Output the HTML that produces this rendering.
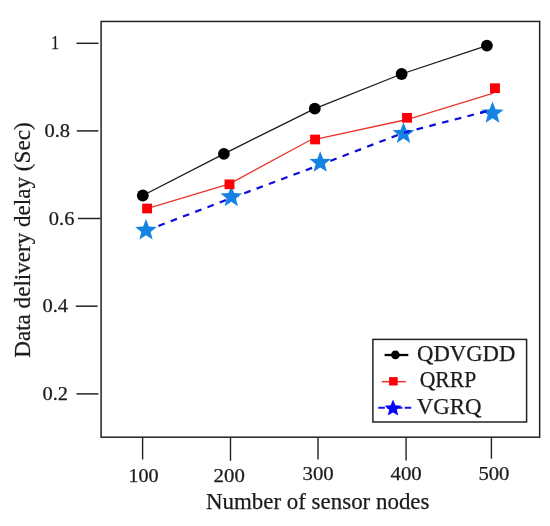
<!DOCTYPE html><html><head><meta charset="utf-8"><title>chart</title>
<style>html,body{margin:0;padding:0;background:#fff;}svg{display:block;}text{font-family:"Liberation Serif",serif;fill:#1c1c1c;stroke:#1c1c1c;stroke-width:0.25px;}</style></head><body>
<svg width="550" height="526" viewBox="0 0 550 526">
<rect width="550" height="526" fill="#fff"/>
<rect x="101.1" y="21.45" width="438.55" height="415.75" fill="none" stroke="#222" stroke-width="1.5"/>
<line x1="142.6" y1="437" x2="142.6" y2="459.5" stroke="#222" stroke-width="1.4"/>
<text x="128.4" y="482" font-size="19.3" textLength="30.2" lengthAdjust="spacingAndGlyphs">100</text>
<line x1="230.5" y1="437" x2="230.5" y2="460.8" stroke="#222" stroke-width="1.4"/>
<text x="213.6" y="482" font-size="19.3" textLength="31.2" lengthAdjust="spacingAndGlyphs">200</text>
<line x1="318" y1="437" x2="318" y2="459.5" stroke="#222" stroke-width="1.4"/>
<text x="302.5" y="479.7" font-size="19.3" textLength="31.2" lengthAdjust="spacingAndGlyphs">300</text>
<line x1="406.1" y1="437" x2="406.1" y2="460.6" stroke="#222" stroke-width="1.4"/>
<text x="390.5" y="479.8" font-size="19.3" textLength="31.3" lengthAdjust="spacingAndGlyphs">400</text>
<line x1="491.4" y1="437" x2="491.4" y2="458.7" stroke="#222" stroke-width="1.4"/>
<text x="478.4" y="479.7" font-size="19.3" textLength="31.0" lengthAdjust="spacingAndGlyphs">500</text>
<line x1="76.5" y1="43.3" x2="98.5" y2="43.3" stroke="#222" stroke-width="1.5"/>
<text x="50.9" y="48.699999999999996" font-size="19.3" textLength="8.2" lengthAdjust="spacingAndGlyphs">1</text>
<line x1="76.8" y1="130.9" x2="98.4" y2="130.9" stroke="#222" stroke-width="1.5"/>
<text x="44.5" y="137.1" font-size="19.3" textLength="25.6" lengthAdjust="spacingAndGlyphs">0.8</text>
<line x1="78" y1="218.5" x2="100.5" y2="218.5" stroke="#222" stroke-width="1.5"/>
<text x="48.8" y="224.7" font-size="19.3" textLength="25.6" lengthAdjust="spacingAndGlyphs">0.6</text>
<line x1="75.8" y1="306.2" x2="97.6" y2="306.2" stroke="#222" stroke-width="1.5"/>
<text x="42.400000000000006" y="312.4" font-size="19.3" textLength="25.6" lengthAdjust="spacingAndGlyphs">0.4</text>
<line x1="76.5" y1="393.9" x2="98.4" y2="393.9" stroke="#222" stroke-width="1.5"/>
<text x="42.400000000000006" y="400.09999999999997" font-size="19.3" textLength="25.6" lengthAdjust="spacingAndGlyphs">0.2</text>
<text x="205.9" y="508.8" font-size="23" textLength="223.6" lengthAdjust="spacingAndGlyphs">Number of sensor nodes</text>
<text transform="translate(30,357.8) rotate(-90)" font-size="23" textLength="235.4" lengthAdjust="spacingAndGlyphs">Data delivery delay (Sec)</text>
<polyline fill="none" stroke="#1a1a1a" stroke-width="1.3" points="142.8,195.5 223.9,153.8 314.8,108.6 401.6,74.0 486.9,45.6"/>
<polyline fill="none" stroke="#e9352d" stroke-width="1.3" points="147,208.6 229.5,183.9 309.5,140.5 407,119.5 493.5,93.2"/>
<circle cx="142.8" cy="195.5" r="5.9" fill="#000"/>
<circle cx="223.9" cy="153.8" r="5.9" fill="#000"/>
<circle cx="314.8" cy="108.6" r="5.9" fill="#000"/>
<circle cx="401.6" cy="74.0" r="5.9" fill="#000"/>
<circle cx="486.9" cy="45.6" r="5.9" fill="#000"/>
<polyline fill="none" stroke="#0c0cdc" stroke-width="2.2" stroke-dasharray="6.7 6.43" stroke-dashoffset="-0.15" points="146,230.7 231.4,198.0 320.6,164.7 403.5,132.8 487.5,111"/>
<polygon points="146.00,219.10 148.86,226.47 156.75,226.91 150.62,231.90 152.64,239.54 146.00,235.26 139.36,239.54 141.38,231.90 135.25,226.91 143.14,226.47" fill="#1683e4"/>
<polygon points="231.30,185.70 234.16,193.07 242.05,193.51 235.92,198.50 237.94,206.14 231.30,201.86 224.66,206.14 226.68,198.50 220.55,193.51 228.44,193.07" fill="#1683e4"/>
<polygon points="320.20,151.30 323.06,158.67 330.95,159.11 324.82,164.10 326.84,171.74 320.20,167.46 313.56,171.74 315.58,164.10 309.45,159.11 317.34,158.67" fill="#1683e4"/>
<polygon points="403.50,122.30 406.38,129.73 414.34,130.18 408.16,135.21 410.20,142.92 403.50,138.60 396.80,142.92 398.84,135.21 392.66,130.18 400.62,129.73" fill="#1683e4"/>
<polygon points="492.50,101.60 495.46,109.23 503.63,109.68 497.28,114.85 499.38,122.77 492.50,118.33 485.62,122.77 487.72,114.85 481.37,109.68 489.54,109.23" fill="#1683e4"/>
<clipPath id="c4"><rect x="403.6" y="124" width="7.6" height="16"/><rect x="479" y="105" width="9" height="12"/></clipPath>
<polyline clip-path="url(#c4)" fill="none" stroke="#0c0cdc" stroke-width="2.2" stroke-dasharray="6.7 6.43" stroke-dashoffset="-0.15" points="146,230.7 231.4,198.0 320.6,164.7 403.5,132.8 487.5,111"/>
<rect x="142.15" y="203.65" width="9.9" height="9.7" fill="#fb0007"/>
<rect x="224.55" y="179.45000000000002" width="9.9" height="9.7" fill="#fb0007"/>
<rect x="310.15000000000003" y="134.65" width="9.9" height="9.7" fill="#fb0007"/>
<rect x="402.05" y="112.95" width="9.9" height="9.7" fill="#fb0007"/>
<rect x="490.05" y="83.35000000000001" width="9.9" height="9.7" fill="#fb0007"/>
<rect x="372.9" y="339.4" width="153.7" height="82.6" fill="#fff" stroke="#222" stroke-width="1.5"/>
<line x1="384.6" y1="355" x2="408.3" y2="355" stroke="#000" stroke-width="2.3"/><circle cx="395.4" cy="354.9" r="4.3" fill="#000"/>
<text x="417" y="360.6" font-size="23" textLength="98.4" lengthAdjust="spacingAndGlyphs">QDVGDD</text>
<line x1="381.7" y1="381.7" x2="405.9" y2="381.7" stroke="#e9352d" stroke-width="1.5"/><rect x="389.1" y="377.1" width="8.6" height="8.4" fill="#fb0007"/>
<text x="419.7" y="387.3" font-size="23" textLength="56.5" lengthAdjust="spacingAndGlyphs">QRRP</text>
<line x1="378.3" y1="407.7" x2="411.2" y2="407.7" stroke="#1010f0" stroke-width="2" stroke-dasharray="6.5 2.3"/>
<polygon points="393.00,399.50 395.35,405.16 401.46,405.65 396.81,409.64 398.23,415.60 393.00,412.40 387.77,415.60 389.19,409.64 384.54,405.65 390.65,405.16" fill="#0808f4"/>
<text x="416.8" y="414" font-size="23" textLength="64.7" lengthAdjust="spacingAndGlyphs">VGRQ</text>
</svg></body></html>
